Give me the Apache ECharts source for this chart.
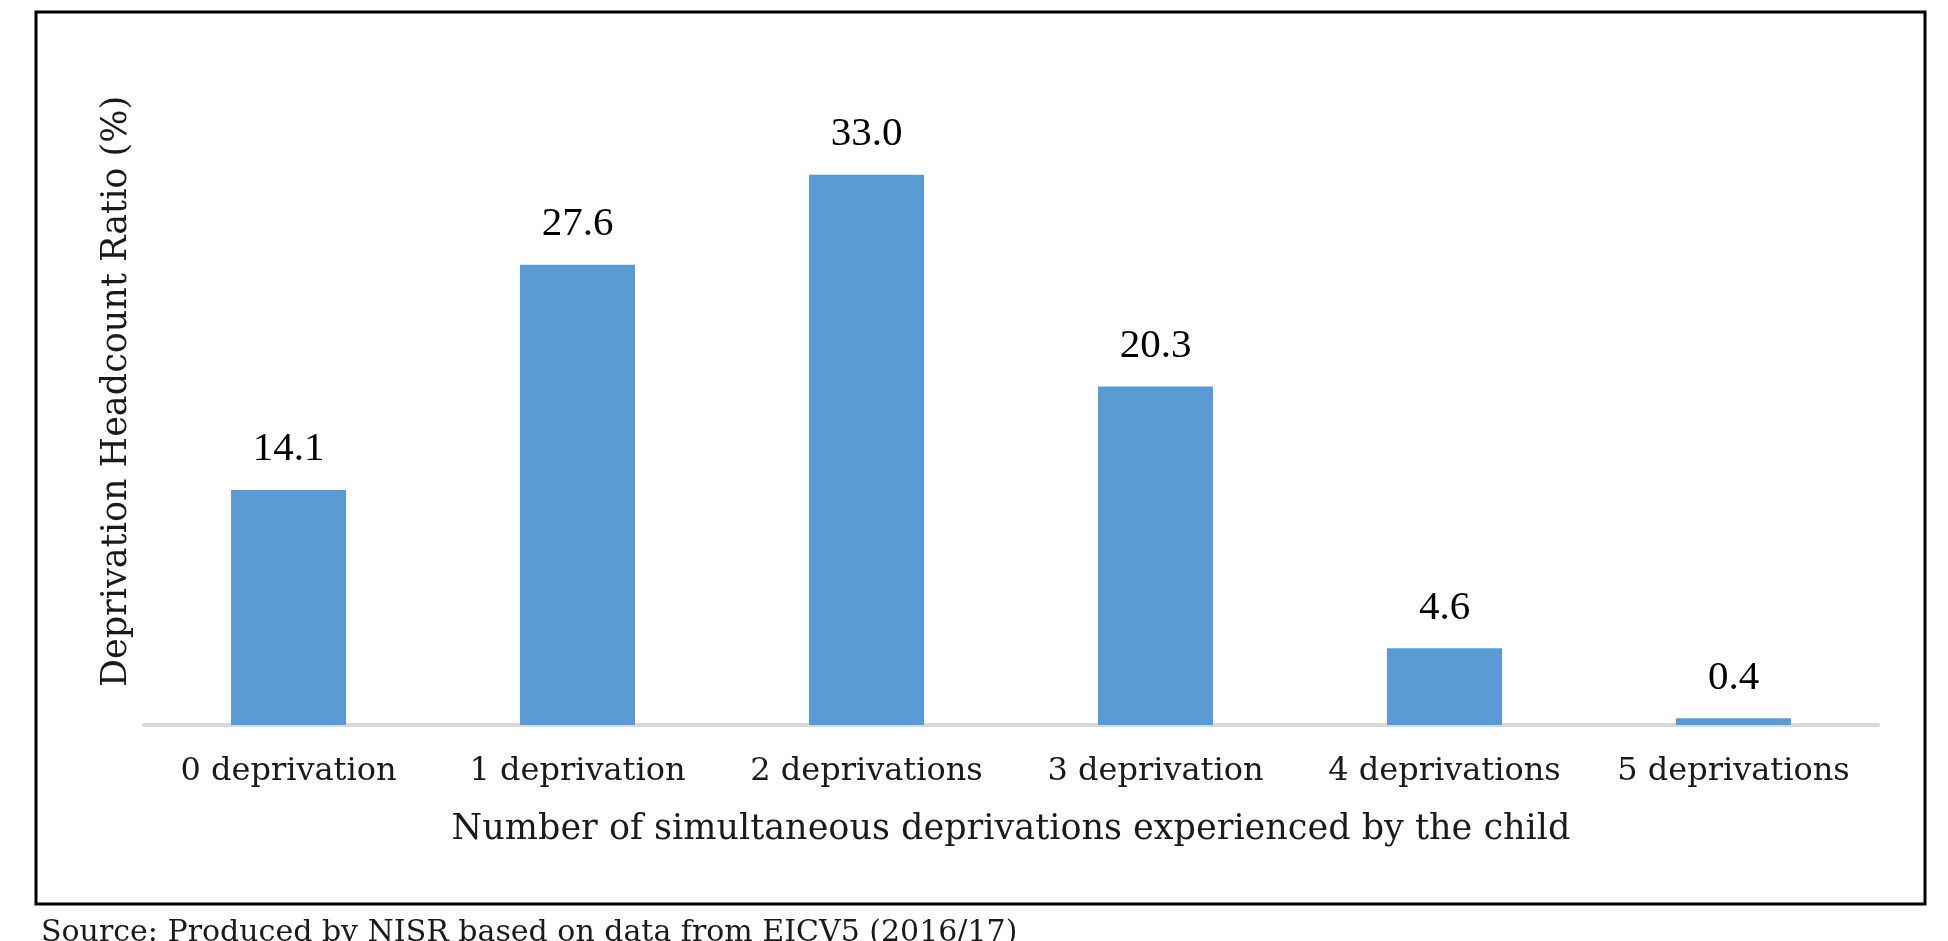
<!DOCTYPE html>
<html lang="en">
<head>
    <meta charset="UTF-8">
    <title>Deprivation headcount ratio</title>
    <style>
        html, body { margin: 0; padding: 0; background: #fff; }
        #main { width: 1948px; height: 941px; }
    </style>
</head>
<body>
    <div id="main"></div>
    <script src="https://cdn.jsdelivr.net/npm/echarts@6/dist/echarts.min.js"></script>
    <script>
        // data
        const categories = ['0 deprivation', '1 deprivation', '2 deprivations', '3 deprivation', '4 deprivations', '5 deprivations'];
        const headcount = [14.1, 27.6, 33.0, 20.3, 4.6, 0.4];
        const xTitle = 'Number of simultaneous deprivations experienced by the child';
        const yTitle = 'Deprivation Headcount Ratio (%)';
        const sourceNote = 'Source: Produced by NISR based on data from EICV5 (2016/17)';

        const serif = '"DejaVu Serif", serif';
        const chart = echarts.init(document.getElementById('main'));

        chart.setOption({
            animation: false,
            grid: { left: 144, right: 70, top: 58, bottom: 216 },
            xAxis: {
                type: 'category',
                data: categories,
                axisLine: { lineStyle: { color: '#d9d9d9', width: 4 } },
                axisTick: { show: false },
                axisLabel: { color: '#1a1a1a', fontFamily: serif, fontSize: 32, margin: 31, interval: 0, hideOverlap: false },
                name: xTitle,
                nameLocation: 'middle',
                nameGap: 87,
                nameTextStyle: { color: '#1a1a1a', fontFamily: serif, fontSize: 35 }
            },
            yAxis: {
                type: 'value',
                min: 0,
                max: 40,
                axisLine: { show: false },
                axisTick: { show: false },
                axisLabel: { show: false },
                splitLine: { show: false },
                name: yTitle,
                nameLocation: 'middle',
                nameGap: 10,
                nameTextStyle: { color: '#1a1a1a', fontFamily: serif, fontSize: 35 }
            },
            series: [{
                type: 'bar',
                data: headcount,
                barWidth: 115,
                itemStyle: { color: '#5b9bd5' },
                label: {
                    show: true,
                    position: 'top',
                    distance: 20,
                    color: '#000',
                    fontFamily: '"Liberation Serif", serif',
                    fontSize: 41,
                    formatter: p => p.value.toFixed(1)
                }
            }],
            graphic: [
                {
                    type: 'rect',
                    shape: { x: 36, y: 12, width: 1889, height: 892 },
                    style: { fill: 'none', stroke: '#000', lineWidth: 3 },
                    silent: true
                },
                {
                    type: 'text',
                    left: 41,
                    top: 918,
                    style: { text: sourceNote, fill: '#1a1a1a', font: '30px "DejaVu Serif", serif' },
                    silent: true
                }
            ]
        });
    </script>
</body>
</html>
